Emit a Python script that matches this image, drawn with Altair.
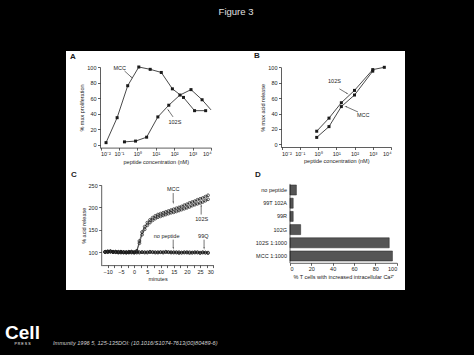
import altair as alt
import pandas as pd

FONT = "Liberation Sans"
INK = "#1a1a1a"

# ---------------- data ----------------
# Panel A: % max proliferation vs peptide concentration (nM)
a_mcc_conc = [0.02, 0.08, 0.3, 1.2, 5, 20, 80, 320, 1280, 5120]
a_mcc_val = [3, 35, 76, 100, 97, 93, 72, 61, 44, 44]
a_102s_conc = [0.2, 0.8, 3.2, 13, 51, 205, 820, 3280, 10000]
a_102s_val = [4, 5, 10, 36, 51, 64, 71, 58, 45]
a_102s_marked = [1, 1, 1, 1, 1, 1, 1, 1, 0]

# Panel B: % max acid release vs peptide concentration (nM)
b_mcc_conc = [0.85, 4, 19, 100, 1000]
b_mcc_val = [9, 23, 49, 64, 95]
b_102s_conc = [0.85, 4, 19, 100, 1000, 4300]
b_102s_val = [17, 34, 54, 70, 97, 100]

# Panel C: % acid release vs minutes
c_minutes = list(range(-11, 29))
c_mcc = [101, 102, 102, 101, 101, 100, 101, 100, 99, 101, 100, 99, 103,
         125, 145, 157, 166, 172, 177, 181, 184, 186, 188, 190, 192, 194,
         196, 198, 200, 202, 205, 207, 210, 212, 214, 217, 219, 221, 224, 227]
c_102s = [100, 101, 101, 100, 100, 101, 99, 100, 100, 99, 101, 100, 102,
          120, 139, 151, 160, 166, 171, 175, 178, 180, 182, 184, 186, 188,
          189, 191, 193, 195, 197, 199, 201, 204, 206, 208, 210, 212, 215, 218]
c_nopep = [100, 101, 101, 100, 101, 99, 100, 100, 99, 100, 101, 99, 100, 99,
           100, 99, 100, 101, 100, 100, 99, 100, 100, 101, 100, 99, 100, 99,
           98, 99, 100, 99, 98, 99, 100, 99, 98, 99, 99, 98]
c_99q = [101, 100, 102, 101, 100, 100, 101, 99, 100, 100, 99, 100, 99, 100,
         100, 100, 99, 100, 100, 99, 100, 100, 99, 100, 100, 100, 99, 100,
         100, 99, 99, 100, 100, 99, 99, 100, 99, 100, 99, 99]

# Panel D: % T cells with increased intracellular Ca2+
d_cats = ["no peptide", "99T 102A", "99R", "102G", "102S 1:1000", "MCC 1:1000"]
d_vals = [6, 3, 3, 10, 93, 96]

# annotations (data coordinates of each panel)
a_lab_text = ["MCC", "102S"]
a_lab_x = [0.11, 110]
a_lab_y = [99, 30]
a_arr_x = [0.2, 87]
a_arr_y = [95, 36]
a_arr_x2 = [0.47, 47]
a_arr_y2 = [87, 45]
a_arr_angle = [135, 323]

b_lab_text = ["102S", "MCC"]
b_lab_x = [8, 300]
b_lab_y = [82, 38]
b_arr_x = [15, 155]
b_arr_y = [72, 42]
b_arr_x2 = [40, 34]
b_arr_y2 = [66, 49]
b_arr_angle = [121, 290]

c_lab_text = ["MCC", "102S", "no peptide", "99Q"]
c_lab_x = [14.8, 25.6, 12.3, 26.2]
c_lab_y = [241, 173, 136, 136]
c_arr_x = [14.8, 25.4, 14.8, 26.5]
c_arr_y = [232, 184, 128, 128]
c_arr_y2 = [211, 204, 109, 109]
c_arr_angle = [180, 0, 180, 180]

# ---------------- frames ----------------
dfA = pd.DataFrame({
    "series": ["MCC"] * len(a_mcc_conc) + ["102S"] * len(a_102s_conc),
    "conc": a_mcc_conc + a_102s_conc,
    "val": a_mcc_val + a_102s_val,
    "marked": [1] * len(a_mcc_conc) + a_102s_marked,
})
dfB = pd.DataFrame({
    "series": ["MCC"] * len(b_mcc_conc) + ["102S"] * len(b_102s_conc),
    "conc": b_mcc_conc + b_102s_conc,
    "val": b_mcc_val + b_102s_val,
})
dfC = pd.DataFrame({
    "series": (["MCC"] * len(c_minutes) + ["102S"] * len(c_minutes)
               + ["no peptide"] * len(c_minutes) + ["99Q"] * len(c_minutes)),
    "t": c_minutes * 4,
    "val": c_mcc + c_102s + c_nopep + c_99q,
})
dfD = pd.DataFrame({"cat": d_cats, "val": d_vals})

labA = pd.DataFrame({"text": a_lab_text, "x": a_lab_x, "y": a_lab_y})
arrA = pd.DataFrame({"x": a_arr_x, "y": a_arr_y, "x2": a_arr_x2, "y2": a_arr_y2, "angle": a_arr_angle})
labB = pd.DataFrame({"text": b_lab_text, "x": b_lab_x, "y": b_lab_y})
arrB = pd.DataFrame({"x": b_arr_x, "y": b_arr_y, "x2": b_arr_x2, "y2": b_arr_y2, "angle": b_arr_angle})
labC = pd.DataFrame({"text": c_lab_text, "x": c_lab_x, "y": c_lab_y})
arrC = pd.DataFrame({"x": c_arr_x, "y": c_arr_y, "y2": c_arr_y2, "angle": c_arr_angle})

one = pd.DataFrame({"k": [0]})

# ---------------- scales ----------------
log_ticks = [0.01, 0.1, 1, 10, 100, 1000, 10000]
log_label = ("datum.value < 0.05 ? '10⁻²' : datum.value < 0.5 ? '10⁻¹' : "
             "datum.value < 5 ? '10⁰' : datum.value < 50 ? '10¹' : "
             "datum.value < 500 ? '10²' : datum.value < 5000 ? '10³' : '10⁴'")

xA = alt.Scale(type="log", domain=[0.01, 10000], range=[100.5, 211])
yA = alt.Scale(domain=[-4, 100], range=[148.1, 67])
xB = alt.Scale(type="log", domain=[0.01, 10000], range=[281.5, 391])
yB = alt.Scale(domain=[-4, 100], range=[147.4, 67.3])
xC = alt.Scale(domain=[-12.3, 30], range=[101.7, 213.3])
yC = alt.Scale(domain=[70, 250], range=[265.6, 185])
xD = alt.Scale(domain=[0, 100], range=[290, 396.7])
yD = alt.Scale(domain=d_cats, range=[183.4, 262.6], paddingInner=0.24, paddingOuter=0.12)

W, H = 474, 355


def xaxis(offset_y, title, values, label_expr=None):
    kw = dict(orient="bottom", offset=offset_y - H, title=title, values=values, zindex=2)
    if label_expr:
        kw["labelExpr"] = label_expr
    return alt.Axis(**kw)


def yaxis(offset_x, title, values):
    return alt.Axis(orient="left", offset=-offset_x, title=title, values=values, zindex=2)


layers = []

# white figure area
layers.append(alt.Chart(one).mark_rect(color="white").encode(
    x=alt.value(66), x2=alt.value(405), y=alt.value(51), y2=alt.value(290)))

# ---------- panel A ----------
layers.append(alt.Chart(dfA).mark_line(color=INK, strokeWidth=0.8).encode(
    x=alt.X("conc:Q", scale=xA,
            axis=xaxis(147.6, "peptide concentration (nM)", log_ticks, log_label)),
    y=alt.Y("val:Q", scale=yA, axis=yaxis(100, "% max proliferation", [0, 20, 40, 60, 80, 100])),
    detail="series:N"))
layers.append(alt.Chart(dfA).transform_filter("datum.marked == 1").mark_square(
    size=9, color=INK, opacity=1).encode(
    x=alt.X("conc:Q", scale=xA, axis=None), y=alt.Y("val:Q", scale=yA, axis=None)))
layers.append(alt.Chart(labA).mark_text(font=FONT, fontSize=5.5, color=INK).encode(
    x=alt.X("x:Q", scale=xA, axis=None), y=alt.Y("y:Q", scale=yA, axis=None), text="text:N"))
layers.append(alt.Chart(arrA).mark_rule(color=INK, strokeWidth=0.6).encode(
    x=alt.X("x:Q", scale=xA, axis=None), y=alt.Y("y:Q", scale=yA, axis=None),
    x2="x2:Q", y2="y2:Q"))
layers.append(alt.Chart(arrA).mark_point(shape="wedge", filled=True, size=10, color=INK, opacity=1).encode(
    x=alt.X("x2:Q", scale=xA, axis=None), y=alt.Y("y2:Q", scale=yA, axis=None),
    angle=alt.Angle("angle:Q", scale=None)))

# ---------- panel B ----------
layers.append(alt.Chart(dfB).mark_line(color=INK, strokeWidth=0.8).encode(
    x=alt.X("conc:Q", scale=xB,
            axis=xaxis(147, "peptide concentration (nM)", log_ticks, log_label)),
    y=alt.Y("val:Q", scale=yB, axis=yaxis(281, "% max acid release", [0, 20, 40, 60, 80, 100])),
    detail="series:N"))
layers.append(alt.Chart(dfB).mark_square(size=9, color=INK, opacity=1).encode(
    x=alt.X("conc:Q", scale=xB, axis=None), y=alt.Y("val:Q", scale=yB, axis=None)))
layers.append(alt.Chart(labB).mark_text(font=FONT, fontSize=5.5, color=INK).encode(
    x=alt.X("x:Q", scale=xB, axis=None), y=alt.Y("y:Q", scale=yB, axis=None), text="text:N"))
layers.append(alt.Chart(arrB).mark_rule(color=INK, strokeWidth=0.6).encode(
    x=alt.X("x:Q", scale=xB, axis=None), y=alt.Y("y:Q", scale=yB, axis=None),
    x2="x2:Q", y2="y2:Q"))
layers.append(alt.Chart(arrB).mark_point(shape="wedge", filled=True, size=10, color=INK, opacity=1).encode(
    x=alt.X("x2:Q", scale=xB, axis=None), y=alt.Y("y2:Q", scale=yB, axis=None),
    angle=alt.Angle("angle:Q", scale=None)))

# ---------- panel C ----------
c_ticks = [-10 + 2.5 * i for i in range(17)]
layers.append(alt.Chart(dfC).mark_line(color=INK, strokeWidth=0.6).encode(
    x=alt.X("t:Q", scale=xC,
            axis=xaxis(265.1, "minutes", c_ticks, "datum.value % 5 == 0 ? datum.label : ''")),
    y=alt.Y("val:Q", scale=yC, axis=yaxis(101.2, "% acid release", [100, 150, 200, 250])),
    detail="series:N"))
layers.append(alt.Chart(dfC).mark_point(shape="circle", filled=False, size=8, strokeWidth=0.7,
                                        color=INK, opacity=1).encode(
    x=alt.X("t:Q", scale=xC, axis=None), y=alt.Y("val:Q", scale=yC, axis=None)))
layers.append(alt.Chart(labC).mark_text(font=FONT, fontSize=5.5, color=INK).encode(
    x=alt.X("x:Q", scale=xC, axis=None), y=alt.Y("y:Q", scale=yC, axis=None), text="text:N"))
layers.append(alt.Chart(arrC).mark_rule(color=INK, strokeWidth=0.6).encode(
    x=alt.X("x:Q", scale=xC, axis=None), y=alt.Y("y:Q", scale=yC, axis=None), y2="y2:Q"))
layers.append(alt.Chart(arrC).mark_point(shape="wedge", filled=True, size=10, color=INK, opacity=1).encode(
    x=alt.X("x:Q", scale=xC, axis=None), y=alt.Y("y2:Q", scale=yC, axis=None),
    angle=alt.Angle("angle:Q", scale=None)))

# ---------- panel D ----------
layers.append(alt.Chart(dfD).mark_bar(color="#555555", stroke="#222222", strokeWidth=0.5).encode(
    x=alt.X("val:Q", scale=xD,
            axis=xaxis(262.8, "% T cells with increased intracellular Ca²⁺", [0, 20, 40, 60, 80, 100])),
    y=alt.Y("cat:N", scale=yD, sort=d_cats,
            axis=alt.Axis(orient="left", offset=-289.5, title=None, ticks=False, labelPadding=3,
                          zindex=2))))

# ---------- texts outside plots ----------
def txt(s, x, y, size, color, weight="normal", align="center", style="normal"):
    return alt.Chart(one).mark_text(text=s, font=FONT, fontSize=size, color=color, fontWeight=weight,
                                    align=align, baseline="middle", fontStyle=style).encode(
        x=alt.value(x), y=alt.value(y))

layers.append(txt("Figure 3", 236, 12, 9.5, "#e0e0e0"))
layers.append(txt("Immunity 1996 5, 125-135DOI: (10.1016/S1074-7613(00)80489-6)", 53, 343, 5.6, "#d0d0d0",
                  style="italic", align="left"))
layers.append(txt("Cell", 22.5, 332.5, 19, "white", weight="bold"))
layers.append(txt("P  R  E  S  S", 22.5, 344, 3.6, "white"))
layers.append(txt("A", 73, 57, 8, INK, weight="bold"))
layers.append(txt("B", 257, 56, 8, INK, weight="bold"))
layers.append(txt("C", 74, 175, 8, INK, weight="bold"))
layers.append(txt("D", 258, 175, 8, INK, weight="bold"))

chart = alt.layer(*layers).resolve_scale(
    x="independent", y="independent"
).resolve_axis(
    x="independent", y="independent"
).properties(
    width=W, height=H, background="black", padding=0, autosize="none"
).configure_view(
    stroke="transparent"
).configure_axis(
    grid=False, labelFont=FONT, titleFont=FONT, labelFontSize=5.5, titleFontSize=5.5,
    titleFontWeight="normal", labelColor=INK, titleColor=INK, domainColor=INK, tickColor=INK,
    domainWidth=0.7, tickWidth=0.7, tickSize=2.5, labelPadding=1.5, titlePadding=2
)

chart.save("out.html", embed_options={"renderer": "svg", "actions": False})
